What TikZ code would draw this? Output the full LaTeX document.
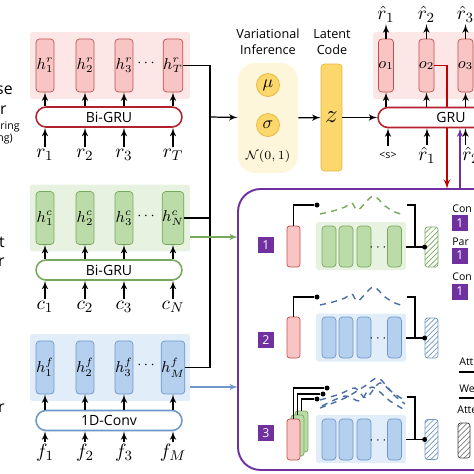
\documentclass[tikz,border=0pt]{standalone}
\usepackage{fontspec}
\setmainfont{Open Sans}
\usetikzlibrary{arrows, patterns}
\definecolor{redbg}{HTML}{FDE6E6}
\definecolor{redfill}{HTML}{F8C4C4}
\definecolor{redline}{HTML}{C0504D}
\definecolor{grured}{HTML}{B3202E}
\definecolor{greenbg}{HTML}{E7F3E0}
\definecolor{greenfill}{HTML}{BBDCA8}
\definecolor{greenline}{HTML}{77A95C}
\definecolor{bluebg}{HTML}{E1EDF9}
\definecolor{bluefill}{HTML}{B4D0EE}
\definecolor{blueline}{HTML}{6F97C7}
\definecolor{dashblue}{HTML}{4A6FA5}
\definecolor{yelbg}{HTML}{FDF6DA}
\definecolor{yelfill}{HTML}{FCD86C}
\definecolor{yelline}{HTML}{E8B53A}
\definecolor{purp}{HTML}{7030A0}
\definecolor{decred}{HTML}{C00000}

\begin{document}
\begin{tikzpicture}[x=0.02cm, y=-0.02cm, >=latex',
    bg/.style={inner sep=0, minimum width=3.2cm, minimum height=1.34cm, rounded corners=1pt},
    hbox/.style={draw, rounded corners=2pt, inner sep=0, minimum width=0.36cm, minimum height=1.06cm, font=\fontsize{9}{10}\selectfont},
    obox/.style={hbox, draw=redline, fill=redfill, minimum width=0.3cm},
    gru/.style={draw, fill=white, line width=0.9pt, rounded corners=0.2cm, minimum width=2.92cm, minimum height=0.4cm, inner sep=0, font=\fontsize{8}{9}\selectfont},
    lbl/.style={font=\fontsize{11}{13}\selectfont, inner sep=1pt},
    arr/.style={->, line width=0.7pt},
    conn/.style={line width=0.9pt},
    num/.style={fill=purp, text=white, minimum size=0.32cm, inner sep=0, font=\fontsize{7}{8}\selectfont},
    qbox/.style={draw=redline, fill=redfill, rounded corners=1.5pt, minimum width=0.26cm, minimum height=0.82cm, inner sep=0},
    bar/.style={draw, rounded corners=2pt, minimum width=0.28cm, minimum height=0.82cm, inner sep=0},
    hatch/.style={draw, rounded corners=1.5pt, minimum width=0.26cm, minimum height=0.8cm, inner sep=0, pattern=north east lines},
    dot/.style={circle, fill, inner sep=0, minimum size=0.1cm},
    wave/.style={dash pattern=on 3.5pt off 3pt, line width=0.8pt},
    leg/.style={font=\fontsize{6}{7}\selectfont, anchor=west, inner sep=0},
    side/.style={font=\fontsize{9}{11}\selectfont, anchor=east, inner sep=0}]
    \useasboundingbox (0,0) rectangle (474,474);
    \clip (0,0) rectangle (474,474);

    \node[side] (s1) at (13,90) {se};
    \node[side] (s2) at (7,110) {r};
    \node[side, font=\fontsize{6}{7}\selectfont] (s3) at (20,127) {uring};
    \node[side, font=\fontsize{6}{7}\selectfont] (s4) at (13,139) {ng)};
    \node[side] (s5) at (5,242) {t};
    \node[side] (s6) at (5,262) {r};
    \node[side] (s7) at (5,408) {r};

    \node[bg, fill=redbg] (bgr) at (110,65.5) {};
    \node[hbox, draw=redline, fill=redfill] (hr1) at (45,65.5) {$h^r_1$};
    \node[hbox, draw=redline, fill=redfill] (hr2) at (85,65.5) {$h^r_2$};
    \node[hbox, draw=redline, fill=redfill] (hr3) at (124,65.5) {$h^r_3$};
    \node[hbox, draw=redline, fill=redfill] (hrT) at (173,65.5) {$h^r_T$};
    \node[font=\fontsize{8}{9}\selectfont] (dr) at (146,63) {$\cdots$};
    \node[gru, draw=grured] (egr) at (109,117) {Bi-GRU};
    \node[lbl] (r1) at (45,155) {$r_1$};
    \node[lbl] (r2) at (85,155) {$r_2$};
    \node[lbl] (r3) at (124,155) {$r_3$};
    \node[lbl] (rT) at (173,155) {$r_T$};
    \draw[arr] (r1) -- (egr.south -| r1);
    \draw[arr] (r2) -- (egr.south -| r2);
    \draw[arr] (r3) -- (egr.south -| r3);
    \draw[arr] (rT) -- (egr.south -| rT);
    \draw[arr] (egr.north -| hr1) -- (hr1);
    \draw[arr] (egr.north -| hr2) -- (hr2);
    \draw[arr] (egr.north -| hr3) -- (hr3);
    \draw[arr] (egr.north -| hrT) -- (hrT);

    \node[bg, fill=greenbg] (bgc) at (110,218) {};
    \node[hbox, draw=greenline, fill=greenfill] (hc1) at (45,218) {$h^c_1$};
    \node[hbox, draw=greenline, fill=greenfill] (hc2) at (85,218) {$h^c_2$};
    \node[hbox, draw=greenline, fill=greenfill] (hc3) at (124,218) {$h^c_3$};
    \node[hbox, draw=greenline, fill=greenfill] (hcN) at (173,218) {$h^c_N$};
    \node[font=\fontsize{8}{9}\selectfont] (dc) at (146,216) {$\cdots$};
    \node[gru, draw=greenline] (cgr) at (109,270) {Bi-GRU};
    \node[lbl] (c1) at (45,307) {$c_1$};
    \node[lbl] (c2) at (85,307) {$c_2$};
    \node[lbl] (c3) at (124,307) {$c_3$};
    \node[lbl] (cN) at (173,307) {$c_N$};
    \draw[arr] (c1) -- (cgr.south -| c1);
    \draw[arr] (c2) -- (cgr.south -| c2);
    \draw[arr] (c3) -- (cgr.south -| c3);
    \draw[arr] (cN) -- (cgr.south -| cN);
    \draw[arr] (cgr.north -| hc1) -- (hc1);
    \draw[arr] (cgr.north -| hc2) -- (hc2);
    \draw[arr] (cgr.north -| hc3) -- (hc3);
    \draw[arr] (cgr.north -| hcN) -- (hcN);

    \node[bg, fill=bluebg] (bgf) at (110,367.5) {};
    \node[hbox, draw=blueline, fill=bluefill] (hf1) at (45,367.5) {$h^f_1$};
    \node[hbox, draw=blueline, fill=bluefill] (hf2) at (85,367.5) {$h^f_2$};
    \node[hbox, draw=blueline, fill=bluefill] (hf3) at (124,367.5) {$h^f_3$};
    \node[hbox, draw=blueline, fill=bluefill] (hfM) at (173,367.5) {$h^f_M$};
    \node[font=\fontsize{8}{9}\selectfont] (df) at (146,365) {$\cdots$};
    \node[gru, draw=blueline] (cnv) at (109,420.5) {1D-Conv};
    \node[lbl] (f1) at (45,453) {$f_1$};
    \node[lbl] (f2) at (85,453) {$f_2$};
    \node[lbl] (f3) at (124,453) {$f_3$};
    \node[lbl] (fM) at (173,453) {$f_M$};
    \draw[arr] (f1) -- (cnv.south -| f1);
    \draw[arr] (f2) -- (cnv.south -| f2);
    \draw[arr] (f3) -- (cnv.south -| f3);
    \draw[arr] (fM) -- (cnv.south -| fM);
    \draw[arr] (cnv.north -| hf1) -- (hf1);
    \draw[arr] (cnv.north -| hf2) -- (hf2);
    \draw[arr] (cnv.north -| hf3) -- (hf3);
    \draw[arr] (cnv.north -| hfM) -- (hfM);

    \coordinate (jn) at (210,117);
    \draw[conn] (hrT.east) -| (jn);
    \draw[conn] (hcN.east) -| (jn);
    \draw[conn] (hfM.east) -| (jn);

    \node[fill=yelbg, rounded corners=0.35cm, minimum width=1.2cm, minimum height=2.2cm, inner sep=0] (vi) at (268,118) {};
    \node[font=\fontsize{7.2}{9}\selectfont, align=center] (vit) at (268,42) {Variational\\Inference};
    \node[circle, draw=yelline, fill=yelfill, minimum size=0.46cm, inner sep=0, font=\fontsize{10}{12}\selectfont] (mu) at (268,85) {$\mu$};
    \node[circle, draw=yelline, fill=yelfill, minimum size=0.46cm, inner sep=0, font=\fontsize{10}{12}\selectfont] (sig) at (268,125) {$\sigma$};
    \node[font=\fontsize{7}{8}\selectfont] (nrm) at (268,156) {$\mathcal{N}(0,1)$};
    \draw[arr] (jn) -- (vi);

    \node[draw=yelline, fill=yelfill, rounded corners=2pt, minimum width=0.42cm, minimum height=2.14cm, inner sep=0, font=\fontsize{15}{15}\selectfont] (z) at (331.5,117.5) {$z$};
    \node[font=\fontsize{7.2}{9}\selectfont, align=center] (lat) at (332,42) {Latent\\Code};
    \draw[arr] (vi) -- (z);

    \node[draw=purp, line width=1.1pt, rounded corners=0.45cm, minimum width=6.4cm, minimum height=5.62cm, inner sep=0] (attn) at (398,329.5) {};

    \node[bg, fill=redbg] (bgd) at (453,65.5) {};
    \node[obox] (o1) at (386,65.5) {$o_1$};
    \node[obox] (o2) at (426.5,65.5) {$o_2$};
    \node[obox] (o3) at (465.5,65.5) {$o_3$};
    \node[lbl] (ro1) at (386,14) {$\hat{r}_1$};
    \node[lbl] (ro2) at (426.5,14) {$\hat{r}_2$};
    \node[lbl] (ro3) at (465.5,14) {$\hat{r}_3$};
    \draw[arr] (o1) -- (ro1);
    \draw[arr] (o2) -- (ro2);
    \draw[arr] (o3) -- (ro3);
    \coordinate (ain) at (447,189);
    \draw[conn, decred, ->] (o2.east) -| (ain);
    \node[gru, draw=grured] (dgr) at (451,117.5) {GRU};
    \draw[arr] (z) -- (dgr);
    \node[font=\fontsize{6}{7}\selectfont] (s0) at (388,155) {<s>};
    \node[lbl] (ri1) at (427,155) {$\hat{r}_1$};
    \node[lbl] (ri2) at (471,155) {$\hat{r}_2$};
    \draw[arr] (s0) -- (dgr.south -| s0);
    \draw[arr] (ri1) -- (dgr.south -| ri1);
    \draw[arr] (ri2.north -| o3) -- (dgr.south -| o3);
    \draw[arr] (dgr.north -| o1) -- (o1);
    \draw[arr] (dgr.north -| o2) -- (o2);
    \draw[arr] (dgr.north -| o3) -- (o3);
    \coordinate (aout) at (460,189);
    \draw[arr, purp] (aout) -- (dgr.south -| aout);

    \coordinate (gin) at (238,237);
    \coordinate (bin) at (238,387);
    \draw[arr, greenline] (bgc.east |- gin) -- (gin);
    \draw[arr, blueline] (bgf.east |- bin) -- (bin);

    \node[num] (n1) at (266,245) {1};
    \node[qbox] (q1) at (293.5,246.5) {};
    \node[bg, fill=greenbg, minimum width=1.8cm, minimum height=0.96cm] (w1) at (361,246) {};
    \foreach \x [count=\i] in {329,346,364,394.5}
        \node[bar, draw=greenline, fill=greenfill] (w1b\i) at (\x,246.5) {};
    \node[font=\fontsize{7}{8}\selectfont] (w1d) at (378,248) {$\cdots$};
    \node[hatch, draw=greenline, pattern color=greenline] (a1) at (431.5,247) {};
    \node[dot] (k1) at (317,205) {};
    \draw[conn] (q1.north) |- (k1);
    \coordinate (t1) at (407,205);
    \coordinate (m1) at (415,247);
    \draw[conn] (t1) -| (m1);
    \draw[conn] (w1.east |- a1) -- (a1.west);
    \node[dot] (e1) at (a1.west) {};
    \draw[wave, greenline] plot[smooth] coordinates {(320,214) (333,211) (345,207) (352,203) (358,210) (373,196) (385,206) (395,212) (404,215)};

    \node[num] (n2) at (266,340) {2};
    \node[qbox] (q2) at (293.5,337.5) {};
    \node[bg, fill=bluebg, minimum width=1.8cm, minimum height=0.96cm] (w2) at (361,337.5) {};
    \foreach \x [count=\i] in {329,346,364,394.5}
        \node[bar, draw=blueline, fill=bluefill] (w2b\i) at (\x,337.5) {};
    \node[font=\fontsize{7}{8}\selectfont] (w2d) at (378,339) {$\cdots$};
    \node[hatch, draw=blueline, pattern color=blueline] (a2) at (431.5,338) {};
    \node[dot] (k2) at (317,297) {};
    \draw[conn] (q2.north) |- (k2);
    \coordinate (t2) at (407,297);
    \coordinate (m2) at (415,338);
    \draw[conn] (t2) -| (m2);
    \draw[conn] (w2.east |- a2) -- (a2.west);
    \node[dot] (e2) at (a2.west) {};
    \draw[wave, dashblue] plot[smooth] coordinates {(320,305) (333,302) (345,298) (352,294) (358,301) (373,287) (385,297) (395,303) (404,306)};

    \node[num] (n3) at (266,433) {3};
    \node[qbox, draw=greenline, fill=greenfill] (q3c) at (301.5,431.5) {};
    \node[qbox, draw=greenline, fill=greenfill] (q3b) at (297.5,435.5) {};
    \node[qbox] (q3) at (293.5,439.5) {};
    \node[bg, fill=bluebg, minimum width=1.8cm, minimum height=0.96cm] (w3) at (361,439) {};
    \foreach \x [count=\i] in {329,346,364,394.5}
        \node[bar, draw=blueline, fill=bluefill] (w3b\i) at (\x,439.5) {};
    \node[font=\fontsize{7}{8}\selectfont] (w3d) at (378,441) {$\cdots$};
    \node[hatch, draw=blueline, pattern color=blueline] (a3) at (431.5,439.5) {};
    \node[dot] (k3a) at (327,388) {};
    \node[dot] (k3b) at (323,394) {};
    \node[dot] (k3c) at (317,399) {};
    \draw[conn] (q3.north) |- (k3a);
    \draw[conn] (q3b.north) |- (k3b);
    \draw[conn] (q3c.north) |- (k3c);
    \coordinate (t3) at (407,397);
    \coordinate (m3) at (415,439.5);
    \draw[conn] (t3) -| (m3);
    \draw[conn] (w3.east |- a3) -- (a3.west);
    \node[dot] (e3) at (a3.west) {};
    \draw[wave, dashblue] plot[smooth] coordinates {(320,408) (345,398) (365,386) (378,378) (392,392) (406,401)};
    \draw[wave, dashblue] plot[smooth] coordinates {(320,400) (340,394) (355,388) (366,398) (380,383) (395,396) (405,404)};
    \draw[wave, dashblue] plot[smooth] coordinates {(322,406) (345,396) (360,401) (372,387) (390,401) (405,410)};

    \node[leg] (lg1) at (452,209) {Con};
    \node[num] (ln1) at (460,223) {1};
    \node[leg] (lg2) at (452,242) {Par};
    \node[num] (ln2) at (460,255.5) {1};
    \node[leg] (lg3) at (452,277) {Con};
    \node[num] (ln3) at (460,291.5) {1};
    \node[leg] (lg4) at (459,362) {Att};
    \coordinate (l4) at (480,372);
    \draw[conn] (lg4.west |- l4) -- (l4);
    \node[leg] (lg5) at (459,389) {Wei};
    \coordinate (l5) at (480,398);
    \draw[conn] (lg5.west |- l5) -- (l5);
    \node[leg] (lg6) at (457,410) {Atte};
    \node[hatch, draw=darkgray, pattern color=gray, minimum width=0.24cm, minimum height=0.7cm] (lh) at (464,440.5) {};
\end{tikzpicture}
\end{document}
